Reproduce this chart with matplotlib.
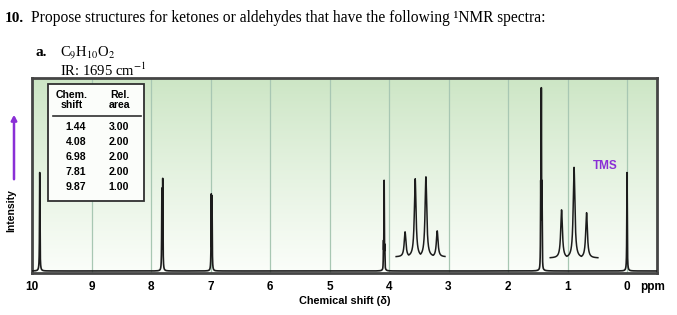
import numpy as np
import matplotlib
matplotlib.use('Agg')
import matplotlib.pyplot as plt
from matplotlib.patches import Rectangle, FancyArrowPatch
from matplotlib.lines import Line2D

plt.rcParams['mathtext.fontset'] = 'stix'

# ---------------- data ----------------
line_ppm = [9.87, 7.817, 7.803, 6.987, 6.975, 4.092, 4.082, 4.072, 1.45, 1.44, 1.43, 0.00]
line_height = [0.51, 0.43, 0.48, 0.40, 0.39, 0.16, 0.47, 0.14, 0.47, 0.95, 0.47, 0.51]

quartet_ppm = [3.73, 3.56, 3.38, 3.19]
quartet_height = [0.13, 0.405, 0.415, 0.135]
quartet_range = [3.88, 3.06]
quartet_base = 0.073

triplet_ppm = [1.10, 0.89, 0.68]
triplet_height = [0.25, 0.47, 0.235]
triplet_range = [1.29, 0.49]
triplet_base = 0.067

table_shift = ["1.44", "4.08", "6.98", "7.81", "9.87"]
table_area = ["3.00", "2.00", "2.00", "2.00", "1.00"]
tick_values = list(range(0, 11))
tick_labels = [str(v) for v in tick_values]

W, H = 677, 315
fig = plt.figure(figsize=(W / 100, H / 100), dpi=100)


def fx(x):
    return x / W


def fy(y):
    return 1 - y / H


def lorentz(x, centers, heights, w):
    x = np.asarray(x)
    comps = [h / (1 + ((x - c) / w) ** 2) for c, h in zip(centers, heights)]
    return np.max(comps, axis=0)


# axes box (pixels): left 32, right 657, top 78, bottom 273
ax = fig.add_axes([fx(32), fy(273), (657 - 32) / W, (273 - 78) / H])
ax.set_xlim(10, -0.504)
ax.set_ylim(-0.0104, 1.0)

# gradient background
t = np.linspace(0, 1, 256)[:, None]
top = np.array([0.80, 0.90, 0.77])
bot = np.array([0.985, 0.995, 0.98])
mix = (t ** 0.9)
grad = top[None, None, :] * (1 - mix[..., None]) + bot[None, None, :] * mix[..., None]
grad = np.repeat(grad, 2, axis=1)
ax.imshow(grad, extent=(10, -0.504, -0.0104, 1.0), aspect='auto', zorder=0,
          interpolation='bilinear')

for v in tick_values[:-1]:
    ax.axvline(v, color=(0.66, 0.78, 0.70), lw=0.9, zorder=1)

# main spectrum
x = np.linspace(10.0, -0.504, 40000)
y = lorentz(x, line_ppm, line_height, 0.004)
ax.plot(x, y, color='#1c1c1c', lw=1.2, zorder=3, solid_joinstyle='round')

# expansions
xq = np.linspace(quartet_range[0], quartet_range[1], 2000)
yq = quartet_base + lorentz(xq, quartet_ppm, quartet_height, 0.017)
ax.plot(xq, yq, color='#1c1c1c', lw=1.1, zorder=3)
xt = np.linspace(triplet_range[0], triplet_range[1], 2000)
yt = triplet_base + lorentz(xt, triplet_ppm, triplet_height, 0.017)
ax.plot(xt, yt, color='#1c1c1c', lw=1.1, zorder=3)

ax.text(0.36, 0.545, 'TMS', color='#8a2fd6', fontsize=8.5, fontweight='bold',
        family='Liberation Sans', ha='center', va='center', zorder=4)

for s in ax.spines.values():
    s.set_color('#454545')
    s.set_linewidth(2.0)
ax.set_yticks([])
ax.set_xticks(tick_values)
ax.set_xticklabels(tick_labels, fontsize=8.5, fontweight='bold', family='Liberation Sans')
ax.tick_params(axis='x', length=0, pad=6)

fig.text(fx(653), fy(287), 'ppm', fontsize=8.5, fontweight='bold',
         family='Liberation Sans', ha='center', va='center')
fig.text(fx(345), fy(301), 'Chemical shift (δ)', fontsize=7.8, fontweight='bold',
         family='Liberation Sans', ha='center', va='center')

# intensity label and arrow
fig.text(fx(11), fy(211), 'Intensity', rotation=90, fontsize=7.5, fontweight='bold',
         family='Liberation Sans', ha='center', va='center')
arr = FancyArrowPatch((fx(14), fy(182)), (fx(14), fy(112)), transform=fig.transFigure,
                      arrowstyle='-|>,head_length=3,head_width=1.6', color='#8a2fd6',
                      lw=1.8, mutation_scale=1)
fig.add_artist(arr)

# table
rect = Rectangle((fx(48), fy(201)), (144 - 48) / W, (201 - 84) / H, transform=fig.transFigure,
                 facecolor='#fbfdfa', edgecolor='#303030', lw=1.3, zorder=5)
fig.add_artist(rect)
tfont = dict(fontsize=7.6, fontweight='bold', family='Liberation Sans', ha='center',
             va='center', zorder=6)
fig.text(fx(72), fy(95), 'Chem.', **tfont)
fig.text(fx(72), fy(105), 'shift', **tfont)
fig.text(fx(120), fy(95), 'Rel.', **tfont)
fig.text(fx(120), fy(105), 'area', **tfont)
fig.add_artist(Line2D([fx(53), fx(141)], [fy(116), fy(116)], transform=fig.transFigure,
                      color='#303030', lw=1.2, zorder=6))
for i, (a, b) in enumerate(zip(table_shift, table_area)):
    yy = 127 + 15 * i
    fig.text(fx(76), fy(yy), a, **tfont)
    fig.text(fx(119), fy(yy), b, **tfont)

# header texts
serif = 'Liberation Serif'
fig.text(fx(5), fy(18), '10.', fontsize=11, fontweight='bold', family=serif,
         ha='left', va='center')
fig.text(fx(31), fy(18), 'Propose structures for ketones or aldehydes that have the following ¹NMR spectra:',
         fontsize=11.2, family=serif, ha='left', va='center')
fig.text(fx(35), fy(53), 'a.', fontsize=11, fontweight='bold', family=serif,
         ha='left', va='center')
fig.text(fx(60), fy(53), r'C$_9$H$_{10}$O$_2$', fontsize=10.5, family=serif,
         ha='left', va='center')
fig.text(fx(60), fy(70), r'IR: 1695 cm$^{-1}$', fontsize=10.5, family=serif,
         ha='left', va='center')

fig.savefig('out.png', dpi=100, facecolor='white')
